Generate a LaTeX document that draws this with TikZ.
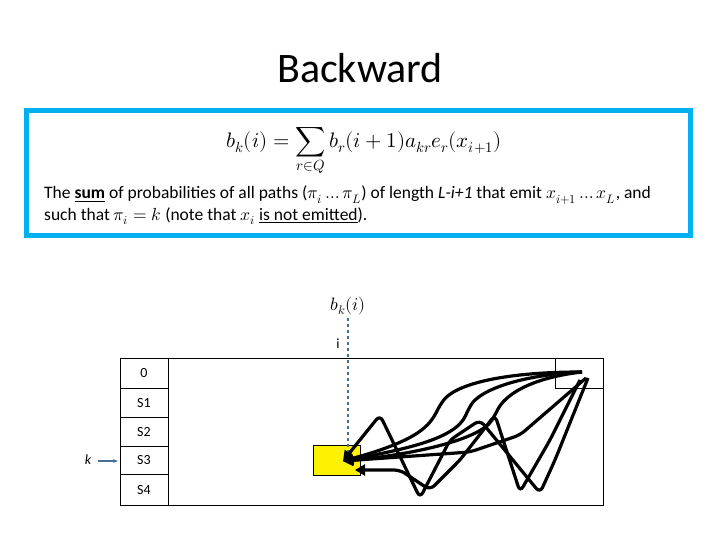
\documentclass[tikz,border=0pt]{standalone}
\usepackage{fontspec}
\usepackage{unicode-math}
\setmainfont{Carlito}
\setmathfont{Latin Modern Math}
\usetikzlibrary{arrows.meta}
\definecolor{boxblue}{RGB}{0,176,240}
\definecolor{dashblue}{RGB}{70,110,150}
\tikzset{cell/.style={draw,line width=1pt},
 path/.style={line width=3.2pt,-{Triangle[length=10pt,width=11pt]},rounded corners=6pt}}
\begin{document}
\begin{tikzpicture}[x=1pt,y=-1pt]
\useasboundingbox (0,0) rectangle (720,540);
\node (title) at (360,68) {\fontsize{42}{46}\selectfont Backward};
\node[draw=boxblue,line width=5pt,minimum width=664pt,minimum height=124pt] (box) at (358,173) {};
\node (eq) at (364,152) {\fontsize{21}{24}\selectfont $b_k(i)=\displaystyle\sum_{r\in Q} b_r(i+1)a_{kr}e_r(x_{i+1})$};
\node[anchor=west,inner sep=0pt] (t1) at (44,195) {\fontsize{17.5}{20}\selectfont The \underline{\textbf{sum}} of probabilities of all paths ($\pi_i\ldots\pi_L$) of length \textit{L-i+1} that emit $x_{i+1}\ldots x_L$, and};
\node[anchor=west,inner sep=0pt] (t2) at (44,216) {\fontsize{17.5}{20}\selectfont such that $\pi_i=k$ (note that $x_i$ \underline{is not emitted}).};
% table
\draw[cell] (120,358) rectangle (603,505);
\draw[cell] (168,358) -- (168,505);
\foreach \y in {388,417,446,474} \draw[cell] (120,\y) -- (168,\y);
\draw[cell] (555,358) |- (603,388);
\foreach \t/\y in {0/373,S1/403,S2/432,S3/460,S4/490} \node (r\t) at (144,\y) {\fontsize{14}{16}\selectfont \t};
\node[draw,fill=yellow,line width=1pt,minimum width=47pt,minimum height=30pt,inner sep=0pt] (yb) at (336.5,460) {};
\node (bk) at (348,306) {\fontsize{18}{20}\selectfont $b_k(i)$};
\node (i) at (338,344) {\fontsize{14}{16}\selectfont i};
\coordinate (dtop) at (348,318);
\coordinate (dend) at (348,462);
\draw[dashblue,dashed,line width=1.2pt] (dtop) -- (dend);
\node (k) at (88,460) {\fontsize{14}{16}\selectfont\itshape k};
\coordinate (ka) at (98,461); \coordinate (kb) at (118,461);
\draw[dashblue,line width=1.2pt,-{Stealth[length=5pt]}] (ka) -- (kb);
% wiggly paths
\coordinate (tgt) at (343,461);
\draw[path] (582,372) .. controls (500,372) and (455,385) .. (440,405) .. controls (430,425) and (420,440) .. (tgt);
\draw[path] (582,372) .. controls (520,375) and (480,390) .. (468,410) .. controls (455,440) and (400,450) .. (tgt);
\draw[path] (582,372) .. controls (530,378) and (505,395) .. (495,415) .. controls (480,440) and (410,455) .. (tgt);
\draw[path] (586,378) -- (520,435) -- (470,452) -- (tgt);
\draw[path] (580,380) -- (550,440) -- (520,492) -- (495,415) -- (460,460) -- (430,490) -- (400,470) -- (355,470);
\draw[path] (588,378) -- (555,460) -- (540,493) -- (480,420) -- (450,440) -- (420,498) -- (380,415) -- (tgt);
\end{tikzpicture}
\end{document}
